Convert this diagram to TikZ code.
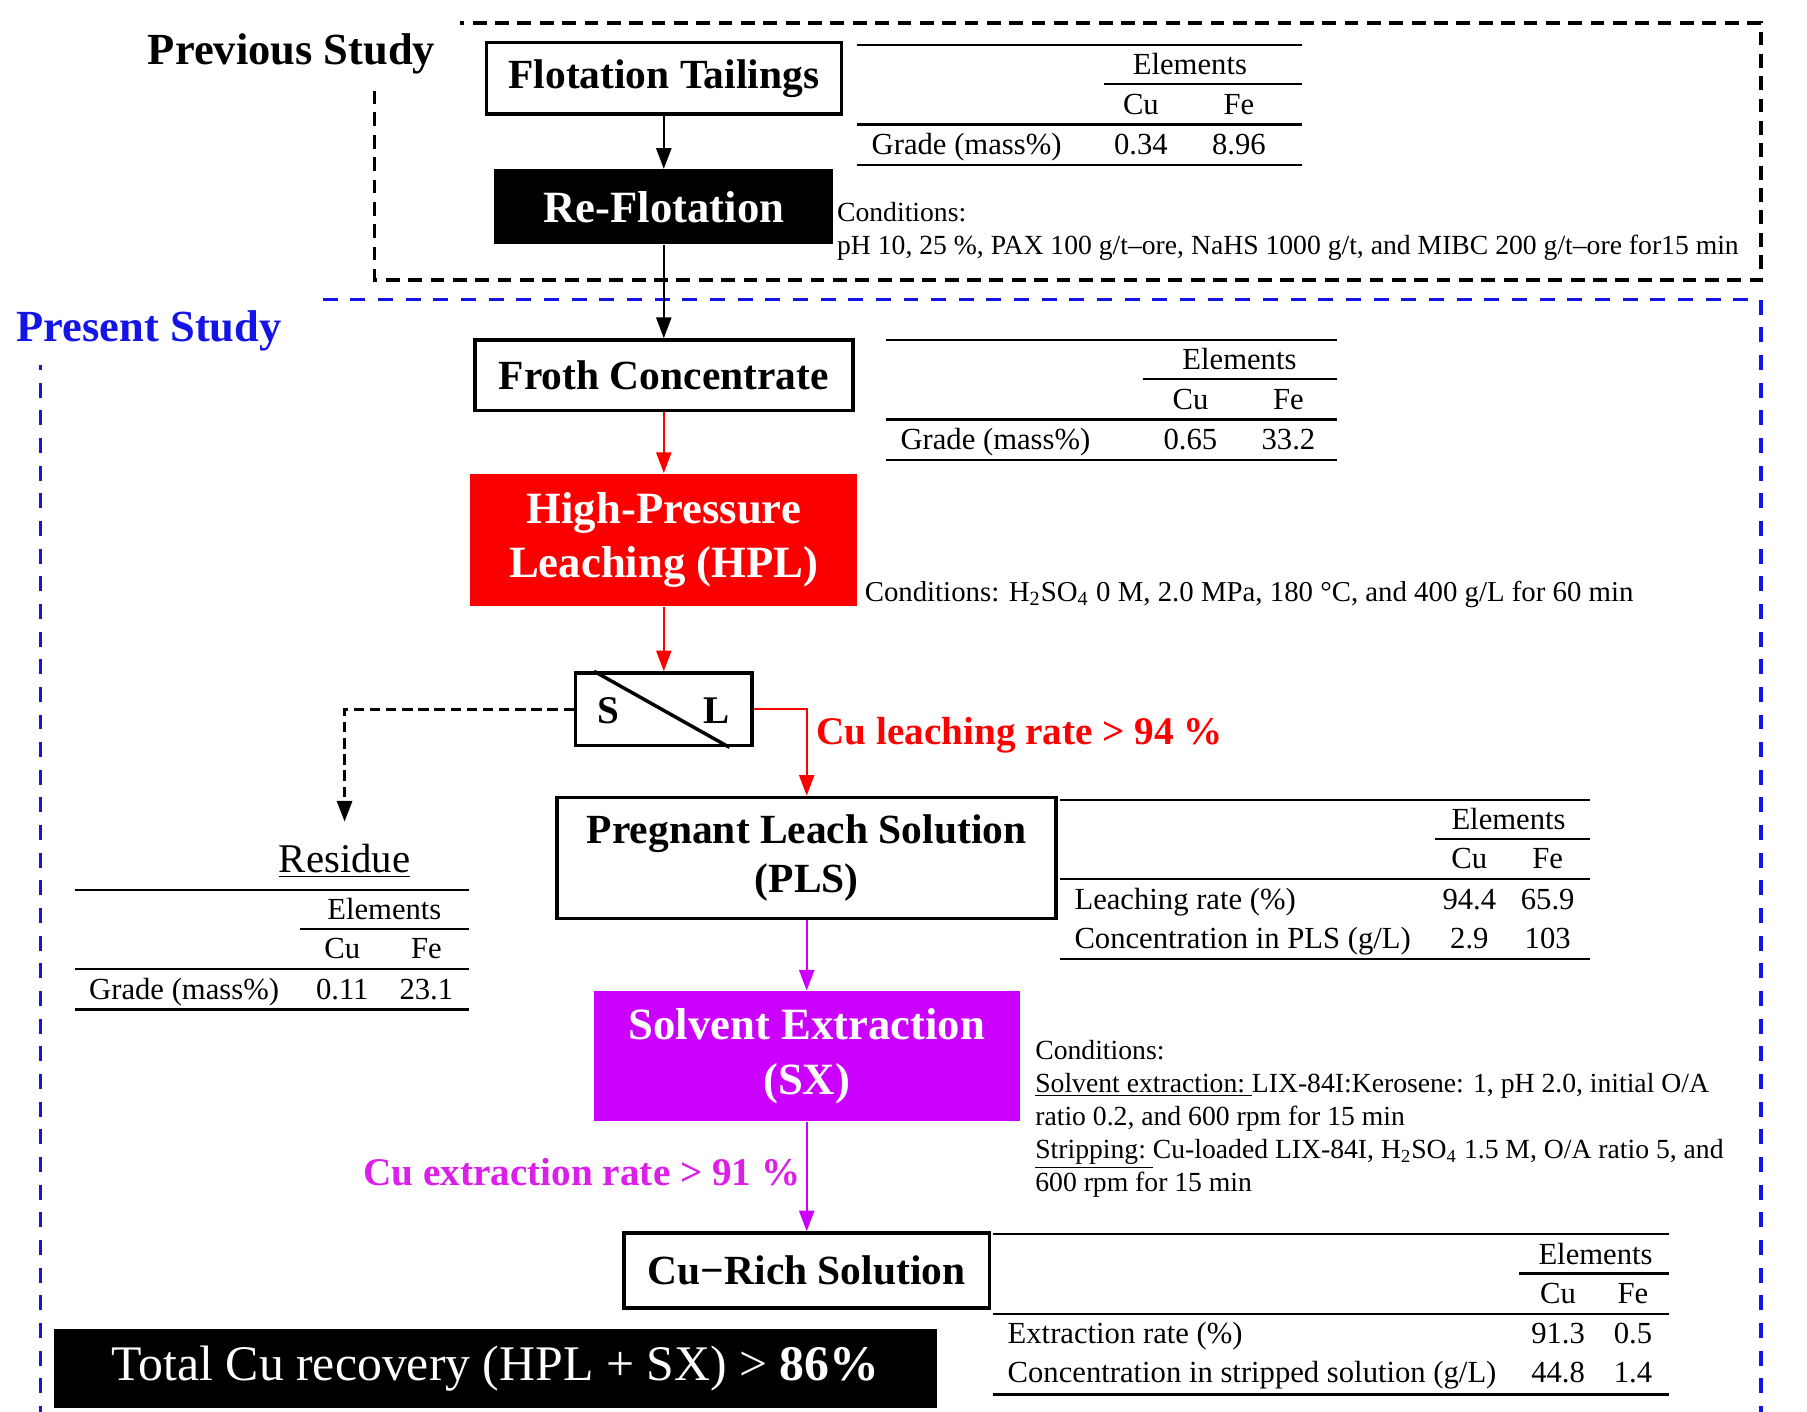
\documentclass[tikz,border=0pt]{standalone}
\usepackage{fontspec}
\setmainfont{Liberation Serif}
\usetikzlibrary{arrows.meta,calc}

\definecolor{presentblue}{RGB}{20,20,230}
\definecolor{sxviolet}{RGB}{204,0,255}
\definecolor{sxlabel}{RGB}{220,30,235}
\definecolor{hplred}{RGB}{250,0,0}

\tikzset{
  box/.style={draw, line width=1.5pt, align=center, inner sep=0pt, font=\fontsize{18}{21}\selectfont\bfseries},
  fillbox/.style={align=center, inner sep=0pt, text=white, font=\fontsize{19.4}{23.5}\selectfont\bfseries},
  studylabel/.style={fill=white, inner xsep=11pt, inner ysep=7pt, font=\fontsize{19.3}{23}\selectfont\bfseries},
  ratelabel/.style={inner sep=0pt, font=\fontsize{17}{20}\selectfont\bfseries},
  tabtext/.style={inner sep=0pt, text height=10pt, text depth=2pt, font=\fontsize{13.3}{16}\selectfont},
  tabrule/.style={line width=1pt},
  cond/.style={inner sep=0pt, align=left, font=\fontsize{12}{14.4}\selectfont},
  flow/.style={-{Triangle[length=9pt,width=6.5pt]}, line width=1pt},
  studybox/.style={line width=1.45pt, dash pattern=on 6pt off 3.7pt}
}

% #1 prefix, #2 width, #3 start of Elements rule, #4 Cu column, #5 Fe column, #6 bottom rule, #7 rows
\newcommand{\elemtable}[7]{%
  \draw[tabrule] (0,0) -- (#2,0);
  \node[tabtext] (#1-el) at ({(#4+#5)/2},18) {Elements};
  \draw[tabrule] (#3,34) -- (#2,34);
  \node[tabtext] (#1-cu) at (#4,52) {Cu};
  \node[tabtext] (#1-fe) at (#5,52) {Fe};
  \draw[tabrule] (0,69) -- (#2,69);
  \foreach \lab/\cu/\fe [count=\r] in {#7} {
    \node[tabtext, anchor=west] (#1-lab\r) at (12,{87+34*(\r-1)}) {\lab};
    \node[tabtext] (#1-cu\r) at (#4,{87+34*(\r-1)}) {\cu};
    \node[tabtext] (#1-fe\r) at (#5,{87+34*(\r-1)}) {\fe};
  }
  \draw[tabrule] (0,#6) -- (#2,#6);
}

\begin{document}
\begin{tikzpicture}[x=0.5pt, y=-0.5pt]
  \useasboundingbox (0,0) rectangle (1568,1225);

  % study frames
  \draw[studybox] (325,20) rectangle (1528,243);
  \draw[studybox, presentblue, dash pattern=on 6.5pt off 5.5pt] (35,260) rectangle (1528,1260);
  \node[studylabel] (prev) at (253,47) {Previous Study};
  \node[studylabel, text=presentblue, inner xsep=17pt, inner ysep=6pt] (pres) at (129.5,287) {Present Study};

  % process steps
  \node[box, minimum width=154pt, minimum height=31pt] (ft) at (576,68) {Flotation Tailings};
  \node[fillbox, fill=black, minimum width=147pt, minimum height=32.5pt] (rf) at (576,179.5) {Re-Flotation};
  \node[box, minimum width=164pt, minimum height=30.5pt] (fc) at (576,325.5) {Froth Concentrate};
  \node[fillbox, fill=hplred, minimum width=168pt, minimum height=57.5pt] (hpl) at (576,468.5) {High-Pressure\\Leaching (HPL)};
  \node[box, minimum width=76.5pt, minimum height=31.5pt] (sl) at (576,615.5) {};
  \node[box, minimum width=216.5pt, minimum height=52.5pt] (pls) at (700,744.5) {Pregnant Leach Solution\\(PLS)};
  \node[fillbox, fill=sxviolet, minimum width=185pt, minimum height=56.5pt] (sx) at (700,916.5) {Solvent Extraction\\(SX)};
  \node[box, minimum width=158.5pt, minimum height=32.5pt] (cur) at (700,1102.5) {Cu−Rich Solution};
  \node[fillbox, fill=black, minimum width=383pt, minimum height=34.5pt, font=\fontsize{21.6}{26}\selectfont] (total) at (430,1187.5) {Total Cu recovery (HPL + SX) > \textbf{86\%}};

  % solid/liquid separation
  \node[font=\fontsize{17}{20}\selectfont\bfseries] (sls) at (528,617) {S};
  \node[font=\fontsize{17}{20}\selectfont\bfseries] (sll) at (622,617) {L};
  \draw[line width=1.5pt] ($(sl.north west)+(17.5,0)$) -- ($(sl.south east)+(-21,0)$);

  \node[font=\fontsize{17.7}{21}\selectfont] (restitle) at (299,747) {\underline{Residue}};
  \coordinate (resin) at (299,713);

  % connectors
  \begin{scope}[every edge/.style={draw, flow}]
    \path (ft) edge (rf);
    \path (rf) edge (fc);
  \end{scope}
  \begin{scope}[every edge/.style={draw=red, flow}]
    \path (fc) edge (hpl);
    \path (hpl) edge (sl);
  \end{scope}
  \draw[flow, red] (sl.east) -| (pls.north);
  \draw[flow, line width=1.3pt, dash pattern=on 4.5pt off 2.5pt] (sl.west) -| (resin);
  \begin{scope}[every edge/.style={draw=sxviolet, flow}]
    \path (pls) edge (sx);
    \path (sx) edge (cur);
  \end{scope}

  \node[ratelabel, text=red, anchor=west] (leachrate) at (708,638) {Cu leaching rate > 94 \%};
  \node[ratelabel, text=sxlabel, anchor=east] (extrate) at (695,1017) {Cu extraction rate > 91 \%};

  % conditions
  \node[cond, anchor=north west] (rfcond) at (726,175) {Conditions:\\pH 10, 25 \%, PAX 100 g/t–ore, NaHS 1000 g/t, and MIBC 200 g/t–ore for15 min};
  \node[cond, anchor=base west, font=\fontsize{12.5}{15}\selectfont] (hplcond) at (750,522) {Conditions: H\textsubscript{2}SO\textsubscript{4} 0 M, 2.0 MPa, 180 °C, and 400 g/L for 60 min};
  \node[cond, anchor=north west] (sxcond) at (898,902) {Conditions:\\\underline{Solvent extraction:\ }LIX-84I:Kerosene: 1, pH 2.0, initial O/A\\ratio 0.2, and 600 rpm for 15 min\\\underline{Stripping:\ }Cu-loaded LIX-84I, H\textsubscript{2}SO\textsubscript{4} 1.5 M, O/A ratio 5, and\\600 rpm for 15 min};

  % element tables
  \begin{scope}[shift={(744,39)}]
    \elemtable{ftab}{386}{214}{246}{331}{104}{Grade (mass\%)/0.34/8.96}
  \end{scope}
  \begin{scope}[shift={(769,295)}]
    \elemtable{fctab}{391}{223}{264}{349}{104}{Grade (mass\%)/0.65/33.2}
  \end{scope}
  \begin{scope}[shift={(920,694)}]
    \elemtable{plstab}{460}{325}{355}{423}{138}{Leaching rate (\%)/94.4/65.9, {Concentration in PLS (g/L)}/2.9/103}
  \end{scope}
  \begin{scope}[shift={(65,772)}]
    \elemtable{restab}{342}{195}{232}{305}{104}{Grade (mass\%)/0.11/23.1}
  \end{scope}
  \begin{scope}[shift={(862,1071)}]
    \elemtable{curtab}{586}{456}{490}{555}{139}{Extraction rate (\%)/91.3/0.5, {Concentration in stripped solution (g/L)}/44.8/1.4}
  \end{scope}
\end{tikzpicture}
\end{document}
